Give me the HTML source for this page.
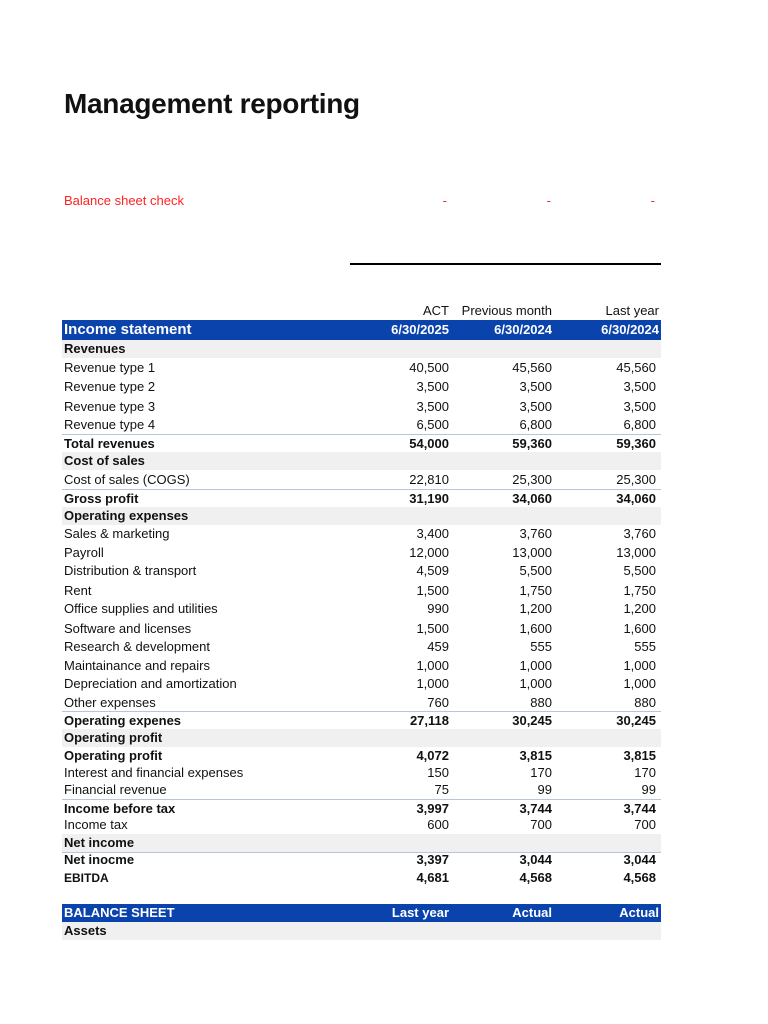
<!DOCTYPE html>
<html><head><meta charset="utf-8"><style>
body{margin:0;width:768px;height:1024px;background:#fff;position:relative;font-family:"Liberation Sans",sans-serif;font-size:13px;color:#111;overflow:hidden}
.r{position:absolute;left:62px;width:599px;height:18px;line-height:18px}
.r span{position:absolute;top:0}
.l{left:2px}
.a{right:212px}.b{right:109px}.c{right:5px}
.g{background:#f0f0f0;font-weight:bold}
.t{font-weight:bold;border-top:1px solid #b8c4d8}
.bd{font-weight:bold}
.h{background:#0b43ad;color:#fff;font-weight:bold}
</style></head><body>
<div style="position:absolute;left:64px;top:88px;font-size:28px;font-weight:bold;letter-spacing:-0.3px">Management reporting</div>
<div class="r" style="top:192px;color:#f22"><span class="l">Balance sheet check</span><span class="a" style="right:214px">-</span><span class="b" style="right:110px">-</span><span class="c" style="right:6px">-</span></div>
<div style="position:absolute;left:350px;top:263px;width:311px;height:2px;background:#000"></div>
<div class="r" style="top:302px"><span class="a">ACT</span><span class="b">Previous month</span><span class="c" style="right:2px">Last year</span></div>
<div class="r h" style="top:320px;height:20px;line-height:20px"><span class="l" style="font-size:15px">Income statement</span><span class="a">6/30/2025</span><span class="b">6/30/2024</span><span class="c" style="right:2px">6/30/2024</span></div>
<div class="r g" style="top:340px"><span class="l">Revenues</span></div>
<div class="r" style="top:359px"><span class="l">Revenue type 1</span><span class="a">40,500</span><span class="b">45,560</span><span class="c">45,560</span></div>
<div class="r" style="top:378px"><span class="l">Revenue type 2</span><span class="a">3,500</span><span class="b">3,500</span><span class="c">3,500</span></div>
<div class="r" style="top:398px"><span class="l">Revenue type 3</span><span class="a">3,500</span><span class="b">3,500</span><span class="c">3,500</span></div>
<div class="r" style="top:416px"><span class="l">Revenue type 4</span><span class="a">6,500</span><span class="b">6,800</span><span class="c">6,800</span></div>
<div class="r t" style="top:434px"><span class="l">Total revenues</span><span class="a">54,000</span><span class="b">59,360</span><span class="c">59,360</span></div>
<div class="r g" style="top:452px"><span class="l">Cost of sales</span></div>
<div class="r" style="top:471px"><span class="l">Cost of sales (COGS)</span><span class="a">22,810</span><span class="b">25,300</span><span class="c">25,300</span></div>
<div class="r t" style="top:489px"><span class="l">Gross profit</span><span class="a">31,190</span><span class="b">34,060</span><span class="c">34,060</span></div>
<div class="r g" style="top:507px"><span class="l">Operating expenses</span></div>
<div class="r" style="top:525px"><span class="l">Sales &amp; marketing</span><span class="a">3,400</span><span class="b">3,760</span><span class="c">3,760</span></div>
<div class="r" style="top:544px"><span class="l">Payroll</span><span class="a">12,000</span><span class="b">13,000</span><span class="c">13,000</span></div>
<div class="r" style="top:562px"><span class="l">Distribution &amp; transport</span><span class="a">4,509</span><span class="b">5,500</span><span class="c">5,500</span></div>
<div class="r" style="top:582px"><span class="l">Rent</span><span class="a">1,500</span><span class="b">1,750</span><span class="c">1,750</span></div>
<div class="r" style="top:600px"><span class="l">Office supplies and utilities</span><span class="a">990</span><span class="b">1,200</span><span class="c">1,200</span></div>
<div class="r" style="top:620px"><span class="l">Software and licenses</span><span class="a">1,500</span><span class="b">1,600</span><span class="c">1,600</span></div>
<div class="r" style="top:638px"><span class="l">Research &amp; development</span><span class="a">459</span><span class="b">555</span><span class="c">555</span></div>
<div class="r" style="top:657px"><span class="l">Maintainance and repairs</span><span class="a">1,000</span><span class="b">1,000</span><span class="c">1,000</span></div>
<div class="r" style="top:675px"><span class="l">Depreciation and amortization</span><span class="a">1,000</span><span class="b">1,000</span><span class="c">1,000</span></div>
<div class="r" style="top:694px"><span class="l">Other expenses</span><span class="a">760</span><span class="b">880</span><span class="c">880</span></div>
<div class="r t" style="top:711px"><span class="l">Operating expenes</span><span class="a">27,118</span><span class="b">30,245</span><span class="c">30,245</span></div>
<div class="r g" style="top:729px"><span class="l">Operating profit</span></div>
<div class="r bd" style="top:747px"><span class="l">Operating profit</span><span class="a">4,072</span><span class="b">3,815</span><span class="c">3,815</span></div>
<div class="r" style="top:764px"><span class="l">Interest and financial expenses</span><span class="a">150</span><span class="b">170</span><span class="c">170</span></div>
<div class="r" style="top:781px"><span class="l">Financial revenue</span><span class="a">75</span><span class="b">99</span><span class="c">99</span></div>
<div class="r t" style="top:799px"><span class="l">Income before tax</span><span class="a">3,997</span><span class="b">3,744</span><span class="c">3,744</span></div>
<div class="r" style="top:816px"><span class="l">Income tax</span><span class="a">600</span><span class="b">700</span><span class="c">700</span></div>
<div class="r g" style="top:834px;border-bottom:1px solid #b8c4d8"><span class="l">Net income</span></div>
<div class="r bd" style="top:851px"><span class="l">Net inocme</span><span class="a">3,397</span><span class="b">3,044</span><span class="c">3,044</span></div>
<div class="r bd" style="top:869px;font-size:12px"><span class="l">EBITDA</span><span class="a" style="font-size:13px">4,681</span><span class="b" style="font-size:13px">4,568</span><span class="c" style="font-size:13px">4,568</span></div>
<div class="r h" style="top:904px"><span class="l">BALANCE SHEET</span><span class="a">Last year</span><span class="b">Actual</span><span class="c" style="right:2px">Actual</span></div>
<div class="r g" style="top:922px"><span class="l">Assets</span></div>
</body></html>
